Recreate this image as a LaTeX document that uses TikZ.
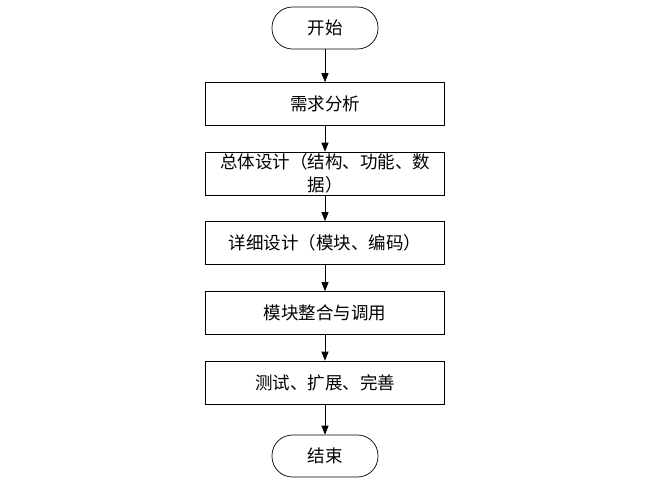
\documentclass[tikz,border=0pt]{standalone}
\usepackage{fontspec}
\newfontfamily\cjk{Noto Sans CJK SC}
\usepackage{tikz}
\usetikzlibrary{arrows.meta}

\begin{document}
\begin{tikzpicture}[x=1pt, y=-1pt, line width=0.7pt,
    >={Triangle[length=9pt, width=7pt]},
    term/.style={draw, rounded corners=20.5pt, minimum width=106pt, minimum height=42pt,
      font=\cjk\fontsize{17.5}{22.5}\selectfont},
    stepbox/.style={draw, minimum width=239pt, minimum height=43pt, align=center,
      inner sep=1pt, font=\cjk\fontsize{17.5}{22.5}\selectfont}]
    \useasboundingbox (0, 0) rectangle (659, 480);

    \node[term](s) at (325, 28) {开始};
    \node[stepbox](r) at (325, 104) {需求分析};
    \node[stepbox](o) at (325, 173.5) {总体设计（结构、功能、数\\据）};
    \node[stepbox](d) at (325, 243) {详细设计（模块、编码）};
    \node[stepbox](m) at (325, 313) {模块整合与调用};
    \node[stepbox](t) at (325, 382.5) {测试、扩展、完善};
    \node[term](e) at (325, 456) {结束};

    \draw[->] (s) edge (r)
              (r) edge (o)
              (o) edge (d)
              (d) edge (m)
              (m) edge (t)
              (t) edge (e);
  \end{tikzpicture}
\end{document}
